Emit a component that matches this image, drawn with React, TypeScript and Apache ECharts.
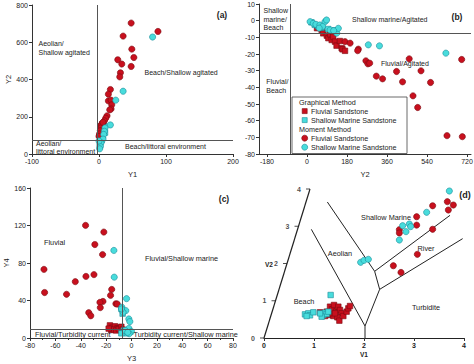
import React, { useEffect, useRef } from "react";
import * as echarts from "echarts";

// ---------- Panel (a): Y1 vs Y2 ----------
const aFluvialMoment: number[][] = [[48,703],[88,658],[36,633],[49,563],[52,518],[28,506],[34,483],[48,470],[32,436],[31,414],[17,346],[14,321],[14,285],[18,289],[19,264],[18,242],[16,237],[12,205],[10,192],[8,178],[5,165],[4,155],[3,140],[2,125],[6,170],[1,108],[0,95]];
const aShallowMoment: number[][] = [[80,628],[36,337],[25,289],[17,156],[9,140],[8,122],[7,105],[6,80],[3,60],[2,40],[1,28],[0,70]];
const aFluvialGraphic: number[][] = [[2,150],[3,130],[4,115],[5,160],[1,100],[3,95],[6,140],[2,85]];
const aShallowGraphic: number[][] = [[8,150],[7,130],[9,115],[6,100],[4,75],[2,55],[1,45],[3,90]];
const aDividers = { x: -2.74, y: 75 };

// ---------- Panel (b): Y2 vs Y3 ----------
const bFluvialMoment: number[][] = [[171,-12.6],[194,-13.5],[231,-17.1],[228,-18],[265,-24.1],[274,-25.9],[282,-25.5],[312,-33.3],[340,-34.9],[403,-30.5],[430,-36.7],[460,-22.9],[513,-30.1],[556,-37.1],[477,-45.1],[498,-52.1],[696,-23.3],[630,-69],[699,-69.6]];
const bShallowMoment: number[][] = [[14,-0.6],[28,-1.6],[40,-2.2],[58,-2.6],[81,-0.6],[88,0.4],[70,-3.5],[104,-5.6],[134,-7.5],[141,-4.6],[120,-6],[55,-4.5],[276,-14.5],[326,-15.1],[625,-19.5]];
const bFluvialGraphic: number[][] = [[45,-4.5],[66,-5.6],[73,-7.6],[89,-9],[96,-10.5],[104,-8.2],[111,-11.6],[118,-9.6],[126,-12.6],[133,-15],[148,-12.2],[156,-16.5],[160,-17.2],[171,-18.1]];
const bShallowGraphic: number[][] = [[20,-1],[35,-2.5],[50,-3.2],[65,-4.2],[95,-5],[125,-5.8]];
const bDividers = { x: -75, y: -7.42 };
const bTicks = [-180, 0, 180, 360, 540, 720];

// ---------- Panel (c): Y3 vs Y4 ----------
const cFluvialMoment: number[][] = [[-36.2,120.1],[-21.8,113],[-28.9,99.7],[-22.8,89],[-69,73.2],[-68.5,48.5],[-51.2,46.6],[-44.3,60.1],[-35.9,65.7],[-29.6,67.6],[-15.6,51.8],[-16.5,45.4],[-22.5,39],[-24.9,38],[-24.6,32.4],[-33.7,27],[-32.1,23.7],[-12.3,36.5],[-11.2,36.2]];
const cShallowMoment: number[][] = [[-13.9,93.4],[-13.6,64.9],[-3.9,42],[-7.6,32.8],[-4.5,29.2],[-6.6,27.4],[-2.1,20.3],[-1.3,17.5],[-2.1,10.3],[0,6.8],[-1.8,4.6],[-7.9,31],[-5,8],[-3,6]];
const cFluvialGraphic: number[][] = [[-17,13.5],[-15,11],[-13,12.5],[-11,10.5],[-9,11],[-16,8.5],[-14,9],[-12,8],[-10,9.5],[-8,12],[-7,9],[-18,10]];
const cShallowGraphic: number[][] = [[-8,31],[-7,26],[-6,8],[-4,5],[-8,5]];
const cDividers = { x: -7.42, y: 9.84 };

// ---------- Panel (d): V1 vs V2 ----------
const dFluvialMoment: number[][] = [[3.667,3.66],[3.787,3.57],[3.687,3.436],[3.373,3.55],[3.053,3.256],[3.053,3.03],[3.373,2.918],[2.707,2.908],[2.707,2.819],[3.067,2.246],[2.587,1.94],[2.74,1.76]];
const dShallowMoment: number[][] = [[3.707,3.946],[3.253,3.374],[2.773,3.015],[2.907,3.06],[2.933,2.99],[2.84,2.855],[2.707,2.63],[1.933,2.031],[2.0,2.085],[2.087,2.112]];
const dFluvialGraphic: number[][] = [[1.12,0.69],[1.187,0.662],[1.253,0.707],[1.32,0.841],[1.367,0.77],[1.4,0.886],[1.44,0.707],[1.487,0.841],[1.52,0.752],[1.553,0.662],[1.32,0.617],[1.387,0.59],[1.467,0.555],[1.507,0.465],[1.587,0.59],[1.653,0.707],[1.687,0.796],[1.72,0.859],[1.42,0.662],[1.287,0.644],[1.22,0.59]];
const dShallowGraphic: number[][] = [[1.333,1.154],[0.82,0.635],[0.887,0.662],[0.92,0.609],[0.987,0.69],[0.853,0.59],[1.187,0.617],[1.22,0.68],[1.253,0.644],[1.287,0.707],[1.153,0.572],[1.12,0.662]];
const dBoundaries: number[][][] = [
  [[0.947,2.917],[2.02,0.322],[2.02,0]],
  [[1.267,3.651],[2.213,1.79],[2.313,1.306],[2.02,0.322]],
  [[2.213,1.79],[3.72,3.293]],
  [[2.313,1.306],[3.973,2.667]],
];
const dV2AxisTop = [0.92, 4];
const dV2Ticks = [0, 1, 2, 3, 4];

const FONT = "'Liberation Sans', Arial, Helvetica, sans-serif";
const TXT = "#222";
const RED = "#c8101e";
const RED_EDGE = "#7a0a10";
const CYAN = "#48dcdc";
const CYAN_EDGE = "#1a8c98";

function sc(name: string, data: number[][], idx: number, square: boolean, red: boolean, extra: any = {}) {
  return {
    type: "scatter",
    name,
    xAxisIndex: idx,
    yAxisIndex: idx,
    data,
    symbol: square ? "rect" : "circle",
    symbolSize: square ? 5.5 : 6.2,
    itemStyle: {
      color: red ? RED : CYAN,
      borderColor: red ? RED_EDGE : CYAN_EDGE,
      borderWidth: 0.6,
      opacity: 1,
    },
    z: square ? 3 : 4,
    silent: true,
    ...extra,
  };
}

function divider(d: { x: number; y: number }) {
  return {
    markLine: {
      silent: true,
      symbol: "none",
      label: { show: false },
      lineStyle: { color: "#555", width: 1, type: "solid" },
      data: [{ xAxis: d.x }, { yAxis: d.y }],
    },
  };
}

const axisBase = (extra: any = {}) => ({
  type: "value",
  axisLine: { show: true, onZero: false, lineStyle: { color: "#333", width: 1 } },
  axisTick: { show: true, length: 3, lineStyle: { color: "#333" } },
  axisLabel: { fontSize: 7, color: TXT, fontFamily: FONT, margin: 4 },
  splitLine: { show: false },
  nameLocation: "middle",
  nameTextStyle: { fontSize: 7.5, color: TXT, fontFamily: FONT },
  ...extra,
});

function txt(text: string, x: number, y: number, opts: any = {}) {
  return {
    type: "text",
    x,
    y,
    z: 50,
    silent: true,
    style: {
      text,
      fontSize: opts.size || 7,
      fontFamily: FONT,
      fontWeight: opts.bold ? "bold" : "normal",
      fill: TXT,
      align: opts.align || "left",
      verticalAlign: "middle",
    },
  };
}

function buildOption() {
  const series: any[] = [
    sc("Fluvial Sandstone (Graphical)", aFluvialGraphic, 0, true, true, divider(aDividers)),
    sc("Shallow Marine Sandstone (Graphical)", aShallowGraphic, 0, true, false),
    sc("Fluvial Sandstone (Moment)", aFluvialMoment, 0, false, true),
    sc("Shallow Marine Sandstone (Moment)", aShallowMoment, 0, false, false),

    sc("Fluvial Sandstone (Graphical)", bFluvialGraphic, 1, true, true, divider(bDividers)),
    sc("Shallow Marine Sandstone (Graphical)", bShallowGraphic, 1, true, false),
    sc("Fluvial Sandstone (Moment)", bFluvialMoment, 1, false, true),
    sc("Shallow Marine Sandstone (Moment)", bShallowMoment, 1, false, false),

    sc("Fluvial Sandstone (Graphical)", cFluvialGraphic, 2, true, true, divider(cDividers)),
    sc("Shallow Marine Sandstone (Graphical)", cShallowGraphic, 2, true, false),
    sc("Fluvial Sandstone (Moment)", cFluvialMoment, 2, false, true),
    sc("Shallow Marine Sandstone (Moment)", cShallowMoment, 2, false, false),

    sc("Fluvial Sandstone (Graphical)", dFluvialGraphic, 3, true, true),
    sc("Shallow Marine Sandstone (Graphical)", dShallowGraphic, 3, true, false),
    sc("Fluvial Sandstone (Moment)", dFluvialMoment, 3, false, true),
    sc("Shallow Marine Sandstone (Moment)", dShallowMoment, 3, false, false),
  ];

  dBoundaries.forEach((seg) => {
    series.push({
      type: "line",
      xAxisIndex: 3,
      yAxisIndex: 3,
      data: seg,
      symbol: "none",
      silent: true,
      clip: false,
      lineStyle: { color: "#222", width: 1 },
      z: 2,
    });
  });
  // slanted V2 axis
  series.push({
    type: "line",
    xAxisIndex: 3,
    yAxisIndex: 3,
    data: [[0, 0], dV2AxisTop],
    symbol: "none",
    silent: true,
    clip: false,
    lineStyle: { color: "#222", width: 1.2 },
    z: 2,
  });
  series.push({
    type: "scatter",
    xAxisIndex: 3,
    yAxisIndex: 3,
    silent: true,
    clip: false,
    data: dV2Ticks.map((k) => [(dV2AxisTop[0] * k) / dV2AxisTop[1], k]),
    symbol: "rect",
    symbolSize: [4, 1],
    symbolOffset: [-2, 0],
    itemStyle: { color: "#222" },
    label: {
      show: true,
      position: "left",
      distance: 5,
      formatter: (p: any) => String(p.value[1]),
      fontSize: 7,
      fontWeight: "bold",
      color: TXT,
      fontFamily: FONT,
    },
    z: 2,
  });

  const LG = 7.2;
  const graphic: any[] = [
    // (a)
    txt("(a)", 222, 15, { bold: true, size: 8.5, align: "center" }),
    txt("Aeolian/", 38.5, 43),
    txt("Shallow agitated", 38.5, 52),
    txt("Beach/Shallow agitated", 144.5, 72.5),
    txt("Aeolian/", 36, 143),
    txt("littoral environment", 36, 151.7),
    txt("Beach/littoral environment", 125, 146.7),
    // (b)
    txt("Shallow", 263.5, 10),
    txt("marine/", 263.5, 19),
    txt("Beach", 263.5, 27),
    txt("Shallow marine/Agitated", 352, 19.3),
    txt("(b)", 457, 17, { bold: true, size: 8.5, align: "center" }),
    txt("Fluvial/", 266.3, 81.7),
    txt("Beach", 266.3, 90),
    txt("Fluvial/Agitated", 381, 63.3),
    // (c)
    txt("(c)", 224, 199, { bold: true, size: 8.5, align: "center" }),
    txt("Fluvial", 44, 242, { size: 7.3 }),
    txt("Fluvial/Shallow marine", 145, 258, { size: 7.3 }),
    txt("Fluvial/Turbidity current", 35, 334.8, { size: 7.3 }),
    txt("Turbidity current/Shallow marine", 133.5, 334.8, { size: 7.3 }),
    // (d)
    txt("(d)", 465, 194.5, { bold: true, size: 9, align: "center" }),
    txt("Shallow Marine", 386, 217, { size: 7.3, align: "center" }),
    txt("Aeolian", 340, 253, { size: 7.3, align: "center" }),
    txt("River", 426, 248, { size: 7.3, align: "center" }),
    txt("Beach", 304, 301, { size: 7.3, align: "center" }),
    txt("Turbidite", 426, 307, { size: 7.3, align: "center" }),
    txt("V2", 269, 264, { size: 6.5, bold: true, align: "center" }),
    // legend in (b)
    {
      type: "rect",
      z: 40,
      silent: true,
      shape: { x: 292, y: 97, width: 115, height: 56.5 },
      style: { fill: "#fff", stroke: "#444", lineWidth: 0.8 },
    },
    txt("Graphical Method", 299, 102.3, { size: LG }),
    {
      type: "rect", z: 51, silent: true,
      shape: { x: 302.2, y: 108.6, width: 5, height: 5 },
      style: { fill: RED, stroke: RED_EDGE, lineWidth: 0.6 },
    },
    txt("Fluvial Sandstone", 311, 111.2, { size: LG }),
    {
      type: "rect", z: 51, silent: true,
      shape: { x: 302.2, y: 117.6, width: 5, height: 5 },
      style: { fill: CYAN, stroke: CYAN_EDGE, lineWidth: 0.6 },
    },
    txt("Shallow Marine Sandstone", 311, 120.2, { size: LG }),
    txt("Moment Method", 299, 129.2, { size: LG }),
    {
      type: "circle", z: 51, silent: true,
      shape: { cx: 304.7, cy: 138.2, r: 3 },
      style: { fill: RED, stroke: RED_EDGE, lineWidth: 0.6 },
    },
    txt("Fluvial Sandstone", 311, 138.2, { size: LG }),
    {
      type: "circle", z: 51, silent: true,
      shape: { cx: 304.7, cy: 147.2, r: 3 },
      style: { fill: CYAN, stroke: CYAN_EDGE, lineWidth: 0.6 },
    },
    txt("Shallow Marine Sandstone", 311, 147.2, { size: LG }),
  ];

  return {
    animation: false,
    backgroundColor: "#fff",
    textStyle: { fontFamily: FONT },
    grid: [
      { left: 32, top: 5, width: 201, height: 149, outerBoundsMode: "none", containLabel: false },
      { left: 259, top: 4, width: 212, height: 150, outerBoundsMode: "none", containLabel: false },
      { left: 30, top: 188, width: 203, height: 150, outerBoundsMode: "none", containLabel: false },
      { left: 264, top: 189, width: 200, height: 149, outerBoundsMode: "none", containLabel: false },
    ],
    xAxis: [
      axisBase({ gridIndex: 0, min: -100, max: 200, interval: 100, name: "Y1", nameGap: 16 }),
      axisBase({
        gridIndex: 1, min: -216, max: 738, name: "Y2", nameGap: 16,
        axisLabel: { fontSize: 7, color: TXT, fontFamily: FONT, margin: 4, customValues: bTicks },
        axisTick: { show: true, length: 3, lineStyle: { color: "#333" }, customValues: bTicks },
      }),
      axisBase({ gridIndex: 2, min: -80, max: 80, interval: 20, name: "Y3", nameGap: 16,
        minorTick: { show: true, splitNumber: 2, length: 2, lineStyle: { color: "#333" } } }),
      axisBase({
        gridIndex: 3, min: 0, max: 4, interval: 1, name: "V1", nameGap: 13,
        axisLabel: { fontSize: 7, color: TXT, fontFamily: FONT, margin: 4, fontWeight: "bold" },
        nameTextStyle: { fontSize: 6.5, color: TXT, fontFamily: FONT, fontWeight: "bold" },
        axisLine: { show: true, onZero: false, lineStyle: { color: "#222", width: 1.2 } },
      }),
    ],
    yAxis: [
      axisBase({ gridIndex: 0, min: 0, max: 800, interval: 200, name: "Y2", nameGap: 20, nameRotate: 90 }),
      axisBase({ gridIndex: 1, min: -80, max: 10, interval: 10 }),
      axisBase({ gridIndex: 2, min: 0, max: 160, interval: 40, name: "Y4", nameGap: 20, nameRotate: 90 }),
      {
        type: "value", gridIndex: 3, min: 0, max: 4,
        show: false,
        axisLine: { show: false, onZero: false },
        splitLine: { show: false },
      },
    ],
    series,
    graphic,
  };
}

export default function App() {
  const ref = useRef<HTMLDivElement>(null);
  useEffect(() => {
    if (!ref.current) return;
    const chart = echarts.init(ref.current, null, { renderer: "svg" });
    chart.setOption(buildOption() as any);
    return () => chart.dispose();
  }, []);
  return (
    <div
      ref={ref}
      style={{ position: "absolute", left: 0, top: 0, width: 474, height: 364, background: "#fff" }}
    />
  );
}
